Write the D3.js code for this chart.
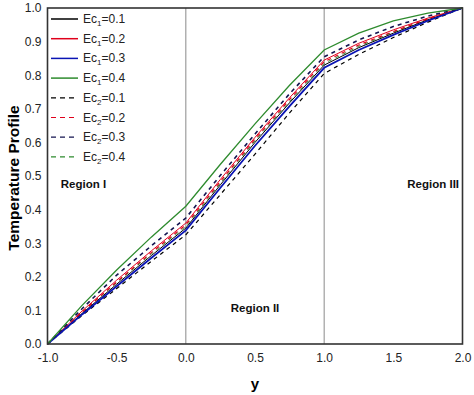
<!DOCTYPE html>
<html>
<head>
<meta charset="utf-8">
<script src="https://cdn.jsdelivr.net/npm/d3@7"></script>
<style>
  body { margin: 0; background: #fff; }
  text { font-family: "Liberation Sans", Arial, sans-serif; }
</style>
</head>
<body>
<svg id="svg" width="474" height="395"></svg>
<script>
// y positions the profiles were read at
const yValues = [-1, -0.75, -0.5, -0.25, 0, 0.25, 0.5, 0.75, 1, 1.25, 1.5, 1.75, 2];

// temperature profile per Eckert number
const ec1_01 = [0, 0.091, 0.178, 0.263, 0.345, 0.474, 0.600, 0.718, 0.830, 0.882, 0.925, 0.965, 1];
const ec1_02 = [0, 0.098, 0.190, 0.277, 0.360, 0.490, 0.615, 0.733, 0.845, 0.895, 0.935, 0.970, 1];
const ec1_03 = [0, 0.088, 0.172, 0.256, 0.338, 0.465, 0.590, 0.708, 0.822, 0.875, 0.920, 0.962, 1];
const ec1_04 = [0, 0.115, 0.220, 0.318, 0.410, 0.535, 0.655, 0.770, 0.875, 0.925, 0.962, 0.985, 1];
const ec2_01 = [0, 0.085, 0.165, 0.246, 0.325, 0.445, 0.565, 0.688, 0.805, 0.862, 0.912, 0.958, 1];
const ec2_02 = [0, 0.095, 0.185, 0.272, 0.355, 0.484, 0.610, 0.728, 0.840, 0.890, 0.930, 0.968, 1];
const ec2_03 = [0, 0.105, 0.205, 0.292, 0.375, 0.502, 0.625, 0.745, 0.855, 0.905, 0.945, 0.976, 1];
const ec2_04 = [0, 0.094, 0.183, 0.268, 0.350, 0.479, 0.605, 0.722, 0.835, 0.886, 0.928, 0.967, 1];

const xTicks = [-1, -0.5, 0, 0.5, 1, 1.5, 2];
const yTicks = [0, 0.1, 0.2, 0.3, 0.4, 0.5, 0.6, 0.7, 0.8, 0.9, 1];
const regionBounds = [0, 1];

const series = [
  { sub: "1", val: "0.1", values: ec1_01, color: "#000000", dash: null, w: 1 },
  { sub: "1", val: "0.2", values: ec1_02, color: "#e0001b", dash: null, w: 1 },
  { sub: "1", val: "0.3", values: ec1_03, color: "#0a14b4", dash: null, w: 1.8 },
  { sub: "1", val: "0.4", values: ec1_04, color: "#2e8b2e", dash: null, w: 1.3 },
  { sub: "2", val: "0.1", values: ec2_01, color: "#000000", dash: "4,4", w: 1.2 },
  { sub: "2", val: "0.2", values: ec2_02, color: "#e0001b", dash: "4,4", w: 1.2 },
  { sub: "2", val: "0.3", values: ec2_03, color: "#141450", dash: "4,4", w: 1.6 },
  { sub: "2", val: "0.4", values: ec2_04, color: "#2e8b2e", dash: "4,4", w: 1 }
];

const svg = d3.select("#svg");
const plotLeft = 47.5, plotRight = 462.5, plotTop = 8, plotBottom = 344;

const x = d3.scaleLinear().domain([-1, 2]).range([plotLeft, plotRight]);
const y = d3.scaleLinear().domain([0, 1]).range([plotBottom, plotTop]);

// plain hyphen instead of d3's unicode minus
const fmt = d => d3.format(".1f")(d).replace("\u2212", "-");

// region separators
svg.selectAll(".sep")
  .data(regionBounds)
  .enter()
  .append("line")
  .attr("x1", d => x(d)).attr("x2", d => x(d))
  .attr("y1", plotTop).attr("y2", plotBottom)
  .attr("stroke", "#8a8a8a")
  .attr("stroke-width", 1);

// curves (green dashed first so it sits under the others)
const line = d3.line().x((d, i) => x(yValues[i])).y(d => y(d));
const drawOrder = [7, 0, 4, 5, 1, 2, 6, 3];
drawOrder.forEach(k => {
  const s = series[k];
  svg.append("path")
    .attr("d", line(s.values))
    .attr("fill", "none")
    .attr("stroke", s.color)
    .attr("stroke-width", s.w)
    .attr("stroke-dasharray", s.dash);
});

// axes
const xAxis = d3.axisBottom(x).tickValues(xTicks).tickSize(0).tickPadding(9).tickFormat(fmt);
const yAxis = d3.axisLeft(y).tickValues(yTicks).tickSize(0).tickPadding(6).tickFormat(fmt);

const gx = svg.append("g").attr("transform", `translate(0,${plotBottom})`).call(xAxis);
const gy = svg.append("g").attr("transform", `translate(${plotLeft},0)`).call(yAxis);
[gx, gy].forEach(g => {
  g.select(".domain").remove();
  g.selectAll("text").attr("font-size", 12).attr("fill", "#222")
    .style("font-family", "'Liberation Sans', Arial, sans-serif");
});

// frame
svg.append("rect")
  .attr("x", plotLeft).attr("y", plotTop)
  .attr("width", plotRight - plotLeft).attr("height", plotBottom - plotTop)
  .attr("fill", "none").attr("stroke", "#333").attr("stroke-width", 1.6);

// axis titles
svg.append("text")
  .attr("x", x(0.5)).attr("y", 389)
  .attr("text-anchor", "middle")
  .attr("font-size", 15).attr("font-weight", "bold")
  .text("y");

svg.append("text")
  .attr("transform", `translate(19,${(plotTop + plotBottom) / 2 + 2}) rotate(-90)`)
  .attr("text-anchor", "middle")
  .attr("font-size", 15.5).attr("font-weight", "bold")
  .text("Temperature Profile");

// region labels
const regions = [
  { t: "Region I", x: -0.74, y: 0.465, anchor: "middle" },
  { t: "Region II", x: 0.5, y: 0.095, anchor: "middle" },
  { t: "Region III", x: 1.975, y: 0.465, anchor: "end" }
];
svg.selectAll(".region")
  .data(regions)
  .enter()
  .append("text")
  .attr("x", d => x(d.x)).attr("y", d => y(d.y))
  .attr("text-anchor", d => d.anchor)
  .attr("font-size", 11.5).attr("font-weight", "bold")
  .attr("fill", "#111")
  .text(d => d.t);

// legend
const legend = svg.selectAll(".leg")
  .data(series)
  .enter()
  .append("g")
  .attr("transform", (d, i) => `translate(51,${19 + i * 19.7})`);

legend.append("line")
  .attr("x1", 0).attr("x2", 27).attr("y1", 0).attr("y2", 0)
  .attr("stroke", d => d.color)
  .attr("stroke-width", d => d.dash ? 1.2 : 1.5)
  .attr("stroke-dasharray", d => d.dash ? "5,4" : null);

const lt = legend.append("text")
  .attr("x", 32).attr("y", 4)
  .attr("font-size", 12).attr("fill", "#222");
lt.append("tspan").text("Ec");
lt.append("tspan").attr("dy", 3).attr("font-size", 8).text(d => d.sub);
lt.append("tspan").attr("dy", -3).text(d => "=" + d.val);
</script>
</body>
</html>
